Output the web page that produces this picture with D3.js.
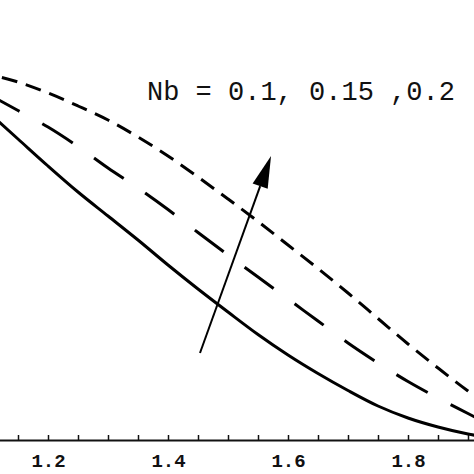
<!DOCTYPE html>
<html>
<head>
<meta charset="utf-8">
<script src="https://cdn.jsdelivr.net/npm/d3@7"></script>
<style>
  body { margin: 0; background: #fff; }
  svg { display: block; }
</style>
</head>
<body>
<script>
// x positions shared by the three profiles
var xs = [1.10, 1.15, 1.20, 1.25, 1.30, 1.35, 1.40, 1.45, 1.50, 1.55,
          1.60, 1.65, 1.70, 1.75, 1.80, 1.85, 1.90, 1.95];

// Nb = 0.1 (solid)
var nb010 = [0.656, 0.602, 0.548, 0.496, 0.448, 0.400, 0.350, 0.302, 0.256,
             0.211, 0.170, 0.133, 0.099, 0.068, 0.044, 0.026, 0.012, 0.002];
// Nb = 0.15 (long dash)
var nb015 = [0.692, 0.659, 0.626, 0.587, 0.544, 0.504, 0.461, 0.415, 0.370,
             0.326, 0.282, 0.238, 0.194, 0.154, 0.117, 0.084, 0.053, 0.022];
// Nb = 0.2 (short dash)
var nb020 = [0.732, 0.716, 0.694, 0.668, 0.640, 0.606, 0.568, 0.526, 0.482,
             0.437, 0.390, 0.343, 0.294, 0.243, 0.192, 0.144, 0.098, 0.056];

var tickVals = d3.range(0, 19).map(function(i) { return +(1.05 + i * 0.05).toFixed(2); });
var tickLabels = ["1.2", "1.4", "1.6", "1.8"];

// arrow from tail to head, and label anchor (data units)
var arrowFrom = [1.4533, 0.174];
var arrowTo = [1.5717, 0.568];
var labelAt = [1.365, 0.68];
var labelText = "Nb = 0.1, 0.15 ,0.2";

var width = 474, height = 474;

var x = d3.scaleLinear().domain([1.0, 2.0]).range([-72, 528]);
var y = d3.scaleLinear().domain([0, 0.8]).range([440, 40]);

var svg = d3.select("body")
    .append("svg")
    .attr("width", width)
    .attr("height", height);

// axis
var axis = d3.axisBottom(x)
    .tickValues(tickVals)
    .tickSizeInner(-5)
    .tickSizeOuter(0)
    .tickPadding(14)
    .tickFormat(function(d) {
        var s = d.toFixed(1);
        return (Math.abs(d * 10 - Math.round(d * 10)) < 1e-6 && tickLabels.indexOf(s) >= 0) ? s : "";
    });

var gx = svg.append("g")
    .attr("transform", "translate(0," + y(0) + ")")
    .call(axis);

gx.select(".domain").attr("stroke", "#111").attr("stroke-width", 2);
gx.selectAll(".tick line").attr("stroke", "#111").attr("stroke-width", 1.5);
gx.selectAll(".tick text")
    .attr("fill", "#111")
    .attr("font-family", "Liberation Mono, Courier New, monospace")
    .attr("font-weight", "bold")
    .attr("font-size", 19);

var line = d3.line()
    .x(function(d) { return x(d[0]); })
    .y(function(d) { return y(d[1]); })
    .curve(d3.curveMonotoneX);

var series = [
    {values: nb010, dash: null, offset: 0},
    {values: nb015, dash: "36,26", offset: 0},
    {values: nb020, dash: "16,9", offset: 10.7}
];

svg.selectAll(".curve")
    .data(series)
    .enter().append("path")
    .attr("class", "curve")
    .attr("fill", "none")
    .attr("stroke", "#000")
    .attr("stroke-width", 3)
    .attr("stroke-dasharray", function(d) { return d.dash; })
    .attr("stroke-dashoffset", function(d) { return d.offset; })
    .attr("d", function(d) {
        return line(xs.map(function(v, i) { return [v, d.values[i]]; }));
    });

// arrow
var x0 = x(arrowFrom[0]), y0 = y(arrowFrom[1]),
    x1 = x(arrowTo[0]), y1 = y(arrowTo[1]);
var ang = Math.atan2(y1 - y0, x1 - x0);
var headLen = 32, headHalf = 8;
var bx = x1 - headLen * Math.cos(ang), by = y1 - headLen * Math.sin(ang);

svg.append("line")
    .attr("x1", x0).attr("y1", y0)
    .attr("x2", bx).attr("y2", by)
    .attr("stroke", "#000")
    .attr("stroke-width", 2);

svg.append("path")
    .attr("fill", "#000")
    .attr("d", "M" + x1 + "," + y1 +
        "L" + (bx + headHalf * Math.sin(ang)) + "," + (by - headHalf * Math.cos(ang)) +
        "L" + (bx - headHalf * Math.sin(ang)) + "," + (by + headHalf * Math.cos(ang)) + "Z");

// label
svg.append("text")
    .attr("x", x(labelAt[0]))
    .attr("y", y(labelAt[1]))
    .attr("font-family", "Liberation Mono, Courier New, monospace")
    .attr("font-size", 27)
    .attr("fill", "#111")
    .text(labelText);
</script>
</body>
</html>
